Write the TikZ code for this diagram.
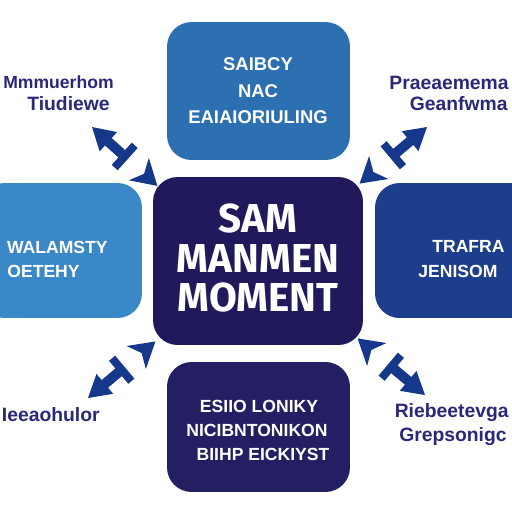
\documentclass[tikz,border=0pt]{standalone}
\usepackage{fontspec}
\setmainfont{Liberation Sans}
\newfontfamily\bigfont{Fira Sans}
\usetikzlibrary{arrows.meta}
\definecolor{topblue}{RGB}{44,112,178}
\definecolor{leftblue}{RGB}{58,136,200}
\definecolor{rightblue}{RGB}{28,62,140}
\definecolor{centernavy}{RGB}{32,26,92}
\definecolor{bottomnavy}{RGB}{36,31,99}
\definecolor{arrowc}{RGB}{22,56,138}
\definecolor{labelc}{RGB}{42,40,120}
\tikzset{
  box/.style={rounded corners=14pt, inner sep=0pt},
  boxtext/.style={text=white, font=\bfseries, align=center, inner sep=0pt},
  sidelabel/.style={text=labelc, font=\bfseries\fontsize{11}{13}\selectfont, inner sep=0pt},
  dbl/.pic={
    \fill[arrowc] (0,0) -- (22,-13) -- (22,-5) -- (40,-5) -- (40,-15) -- (48,-15)
      -- (48,15) -- (40,15) -- (40,5) -- (22,5) -- (22,13) -- cycle;
    \fill[arrowc] (88,0) -- (63,-15) -- (70,0) -- (63,15) -- cycle;
  }
}
\begin{document}
\begin{tikzpicture}[x=0.02cm,y=-0.02cm]
\path[use as bounding box, fill=white] (0,0) rectangle (512,512);
\clip (0,0) rectangle (512,512);
% boxes
\node[box, fill=topblue, minimum width=3.66cm, minimum height=2.76cm] (top) at (258.5,91) {};
\node[box, fill=leftblue, minimum width=3.24cm, minimum height=2.7cm] (left) at (61,250.5) {};
\node[box, fill=rightblue, minimum width=3.2cm, minimum height=2.7cm] (right) at (455,250.5) {};
\node[box, fill=bottomnavy, minimum width=3.66cm, minimum height=2.6cm] (bottom) at (258.5,427) {};
\node[box, fill=centernavy, minimum width=4.2cm, minimum height=3.36cm] (center) at (258,261) {};
% box texts
\node[boxtext, font=\bfseries\fontsize{10.5}{14}\selectfont] (t1) at (258,64) {SAIBCY};
\node[boxtext, font=\bfseries\fontsize{10.5}{14}\selectfont] (t2) at (258,91) {NAC};
\node[boxtext, font=\bfseries\fontsize{10.5}{14}\selectfont] (t3) at (258,117) {EAIAIORIULING};
\node[boxtext, font=\bigfont\bfseries\fontsize{23}{27}\selectfont] (c1) at (258,218) {SAM};
\node[boxtext, font=\bigfont\bfseries\fontsize{23}{27}\selectfont] (c2) at (258,258) {MANMEN};
\node[boxtext, font=\bigfont\bfseries\fontsize{23}{27}\selectfont] (c3) at (258,297) {MOMENT};
\node[boxtext, anchor=east, font=\bfseries\fontsize{10}{13}\selectfont] (l1) at (108,247) {WALAMSTY};
\node[boxtext, anchor=east, font=\bfseries\fontsize{10}{13}\selectfont] (l2) at (80,271) {OETEHY};
\node[boxtext, anchor=west, font=\bfseries\fontsize{10}{13}\selectfont] (r1) at (432,246) {TRAFRA};
\node[boxtext, anchor=west, font=\bfseries\fontsize{10}{13}\selectfont] (r2) at (418,271) {JENISOM};
\node[boxtext, font=\bfseries\fontsize{10}{14}\selectfont] (b1) at (259,406) {ESIIO LONIKY};
\node[boxtext, font=\bfseries\fontsize{10}{14}\selectfont] (b2) at (257,430) {NICIBNTONIKON};
\node[boxtext, font=\bfseries\fontsize{10}{14}\selectfont] (b3) at (263,454) {BIIHP EICKIYST};
% side labels
\node[sidelabel, anchor=east, font=\bfseries\fontsize{10}{12}\selectfont] (ul1) at (114,82) {Mmmuerhom};
\node[sidelabel, anchor=east] (ul2) at (110,104) {Tiudiewe};
\node[sidelabel, anchor=east] (ur1) at (509,83) {Praeaemema};
\node[sidelabel, anchor=east] (ur2) at (508,104) {Geanfwma};
\node[sidelabel, anchor=east] (ll1) at (100,415) {Ieeaohulor};
\node[sidelabel, anchor=east] (lr1) at (509,413) {Riebeetevga};
\node[sidelabel, anchor=east] (lr2) at (507,437) {Grepsonigc};
% double arrows
\pic[rotate=-42] at (92,127) {dbl};
\pic[rotate=220] at (427,127) {dbl};
\pic[rotate=40] at (88,398) {dbl};
\pic[rotate=140] at (425,395) {dbl};
\end{tikzpicture}
\end{document}
